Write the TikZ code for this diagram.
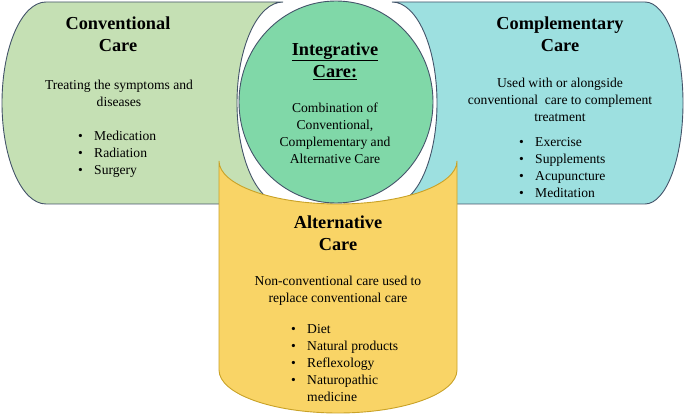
\documentclass[tikz,border=0pt]{standalone}
\usepackage{fontspec}
\setmainfont{Liberation Serif}
\definecolor{convgreen}{HTML}{C5E0B4}
\definecolor{compcyan}{HTML}{9DE0E0}
\definecolor{altyellow}{HTML}{F9D466}
\definecolor{integgreen}{HTML}{80D8A8}
\definecolor{edgeblue}{HTML}{44546A}
\definecolor{edgegold}{HTML}{C9A227}
\newcommand\blt[1]{\makebox[16pt][l]{\textbullet}#1}
\tikzset{
  shapeedge/.style={draw=edgeblue, line width=0.9pt},
  titletext/.style={align=center, inner sep=0pt, font=\fontsize{18.3}{22}\selectfont\bfseries},
  bodytext/.style={align=center, inner sep=0pt, font=\fontsize{13.6}{17}\selectfont},
  listtext/.style={align=left, inner sep=0pt, anchor=west, font=\fontsize{13.6}{17}\selectfont},
}
\begin{document}
\begin{tikzpicture}[x=1pt,y=1pt]
\useasboundingbox (0,0) rectangle (685,415);
% Conventional (green horizontal cylinder)
\path[shapeedge, fill=convgreen] (46,413) -- (283,413)
  arc[start angle=90, end angle=270, x radius=46, y radius=101]
  -- (46,211)
  arc[start angle=270, end angle=90, x radius=44, y radius=101] -- cycle;
% Complementary (cyan horizontal cylinder)
\path[shapeedge, fill=compcyan] (392,413) -- (645,413)
  arc[start angle=90, end angle=-90, x radius=38, y radius=101]
  -- (392,211)
  arc[start angle=-90, end angle=90, x radius=45, y radius=101] -- cycle;
% Alternative (yellow vertical cylinder)
\path[draw=edgegold, line width=0.9pt, fill=altyellow] (219,254)
  arc[start angle=180, end angle=360, x radius=119, y radius=43]
  -- (457,45)
  arc[start angle=0, end angle=-180, x radius=119, y radius=43] -- cycle;
% Integrative circle
\path[shapeedge, fill=integgreen] (336,313) ellipse[x radius=97, y radius=101];

% Texts
\node[titletext] (convtitle) at (118,381) {Conventional\\Care};
\node[bodytext] (convbody) at (119,322) {Treating the symptoms and\\diseases};
\node[listtext] (convlist) at (78,261) {\blt{Medication}\\\blt{Radiation}\\\blt{Surgery}};

\node[titletext] (comptitle) at (560,381) {Complementary\\Care};
\node[bodytext] (compbody) at (560,315.5) {Used with or alongside\\conventional~ care to complement\\treatment};
\node[listtext] (complist) at (519,247) {\blt{Exercise}\\\blt{Supplements}\\\blt{Acupuncture}\\\blt{Meditation}};

\node[titletext] (integtitle) at (335,354) {\underline{Integrative}\\\underline{Care:}};
\node[bodytext] (integbody) at (335,281.5) {Combination of\\Conventional,\\Complementary and\\Alternative Care};

\node[titletext] (alttitle) at (338,182) {Alternative\\Care};
\node[bodytext] (altbody) at (338,124) {Non-conventional care used to\\replace conventional care};
\node[listtext] (altlist) at (291,51.5) {\blt{Diet}\\\blt{Natural products}\\\blt{Reflexology}\\\blt{Naturopathic}\\\hspace{16pt}medicine};
\end{tikzpicture}
\end{document}
